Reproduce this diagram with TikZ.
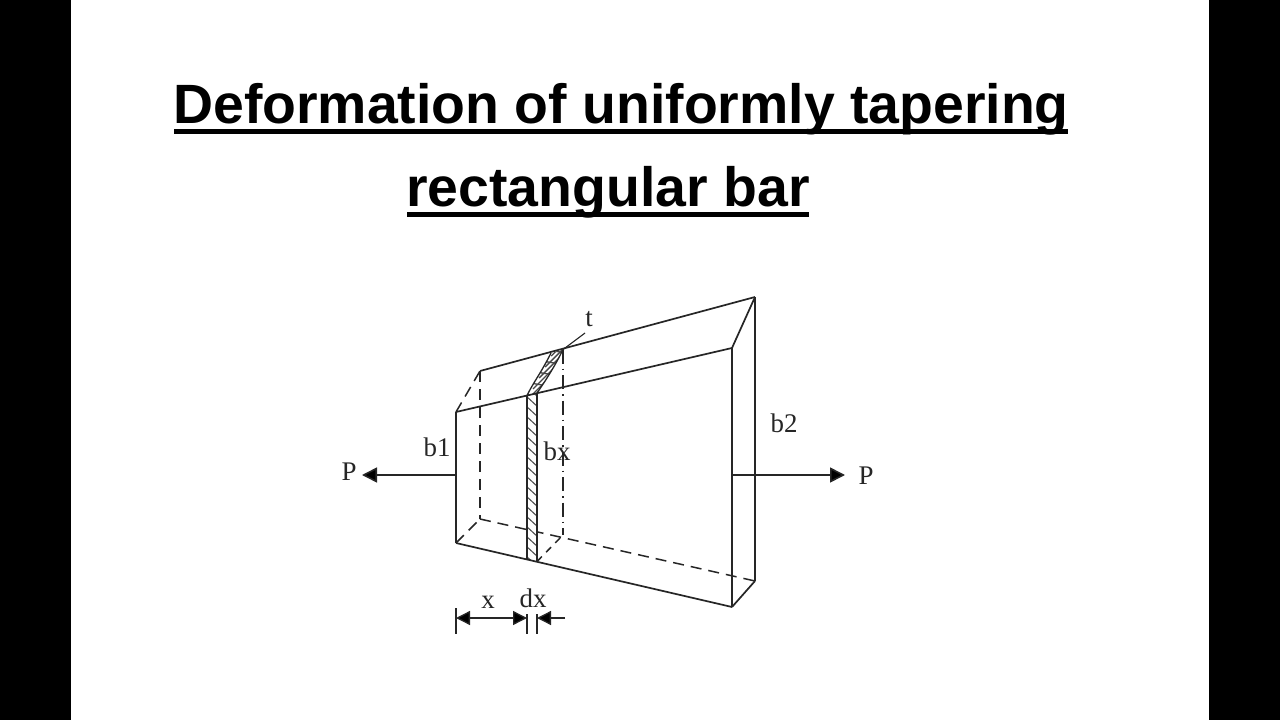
\documentclass[tikz,border=0pt]{standalone}
\usepackage{fontspec}
\setmainfont{Liberation Serif}
\newfontfamily\titlefont{Liberation Sans}[Scale=1]
\usetikzlibrary{arrows.meta}
\definecolor{ink}{HTML}{262626}
\tikzset{
  x=1bp,y=-1bp,
  edge/.style={draw=ink,line width=1.7bp},
  hidden/.style={draw=ink,line width=1.5bp,dash pattern=on 11bp off 7bp},
  hiddendot/.style={draw=ink,line width=1.2bp,dash pattern=on 14bp off 5bp on 1.5bp off 5bp},
  hatch/.style={draw=ink!85,line width=1bp},
  force/.style={draw=ink,line width=1.6bp,-{Triangle[length=15bp,width=15bp,fill=black]}},
  dim/.style={draw=ink,line width=1.3bp},
  dimtip/.style={draw=ink,line width=1.3bp,-{Triangle[length=14bp,width=14bp,fill=black]}},
  lab/.style={font=\fontsize{27}{29}\selectfont,text=ink,inner sep=0pt},
  head/.style={font=\titlefont\bfseries\fontsize{55.6}{58}\selectfont,text=black,inner sep=0pt,anchor=base},
}
\begin{document}
\begin{tikzpicture}
\useasboundingbox (0,0) rectangle (1280,720);
\fill[white] (0,0) rectangle (1280,720);
\fill[black] (0,0) rectangle (71,720);
\fill[black] (1209,0) rectangle (1280,720);
% title
\node[head] (t1) at (621,123.5) {Deformation of uniformly tapering};
\node[head] (t2) at (608,206.5) {rectangular bar};
\fill[black] (174,129) rectangle (1068,134);
\fill[black] (407,212) rectangle (809,217);
% corners
\coordinate (A) at (456,412); \coordinate (B) at (456,543);
\coordinate (C) at (732,348); \coordinate (D) at (732,607);
\coordinate (E) at (480,371); \coordinate (F) at (480,519);
\coordinate (G) at (755,297); \coordinate (H) at (755,581);
% strip
\coordinate (S1) at (527,395.5); \coordinate (S2) at (537,393);
\coordinate (S3) at (537,561.5); \coordinate (S4) at (527,559.5);
\coordinate (S5) at (551,353); \coordinate (S6) at (563,349.5);
\coordinate (S7) at (563,535);
% hidden edges
\draw[hidden] (A) -- (E);
\draw[hidden] (E) -- (F);
\draw[hidden] (B) -- (F);
\draw[hidden] (F) -- (H);
\draw[hiddendot] (S6) -- (S7);
\draw[hidden,dash pattern=on 7bp off 6bp] (S3) -- (S7);
% hatching of the section
\fill[white] (S1) -- (S2) -- (S3) -- (S4) -- cycle;
\begin{scope}
\clip (S1) -- (S2) -- (S3) -- (S4) -- cycle;
\foreach \y in {385,395,...,575} \draw[hatch] (525,\y) -- (539,\y+13);
\end{scope}
\begin{scope}
\clip (S1) .. controls (533,383) and (541,373) .. (S5) -- (S6) .. controls (555,366) and (546,380) .. (S2) -- cycle;
\foreach \d in {0,11,...,55} {
 \draw[hatch,line width=1.3bp] (524+\d*0.55,394-\d) -- (548+\d*0.55,398-\d);
 \draw[hatch,line width=1.3bp] (527+\d*0.55,400-\d) -- (547+\d*0.55,380-\d);
}
\end{scope}
\draw[edge,line width=1.3bp] (S1) .. controls (533,383) and (541,373) .. (S5);
\draw[edge,line width=1.3bp] (S2) .. controls (546,380) and (555,366) .. (S6);
\draw[edge,line width=1.3bp] (S1) -- (S4);
\draw[edge,line width=2.1bp] (S2) -- (S3);
% visible edges
\draw[edge] (E) -- (G);
\draw[edge] (A) -- (C);
\draw[edge] (C) -- (G);
\draw[edge,line width=1.4bp] (G) -- (H);
\draw[edge] (C) -- (D);
\draw[edge] (D) -- (H);
\draw[edge] (A) -- (B);
\draw[edge] (B) -- (D);
% forces
\coordinate (PL) at (456,475); \coordinate (PLtip) at (362,475);
\coordinate (PR) at (732,475); \coordinate (PRtip) at (845,475);
\node[lab] (pleft) at (349,472) {P};
\node[lab] (pright) at (866,476) {P};
\draw[force] (PL) -- (PLtip);
\draw[force] (PR) -- (PRtip);
% labels
\node[lab] (tl) at (589,319) {t};
\node[lab] (b1) at (437,447) {b1};
\node[lab] (bx) at (557,451) {bx};
\node[lab] (b2) at (784,423) {b2};
\node[lab] (xl) at (488,602) {x};
\node[lab] (dxl) at (533,598) {dx};
% t leader
\coordinate (TL) at (585,333);
\draw[edge,line width=1.1bp] (TL) -- (S6);
% dimensions
\draw[dim] (456,608) -- (456,634);
\draw[dim] (527,614) -- (527,634);
\draw[dim] (537,614) -- (537,634);
\draw[dimtip] (490,618) -- (456,618);
\draw[dimtip] (490,618) -- (527,618);
\draw[dimtip] (565,618) -- (537,618);
\end{tikzpicture}
\end{document}
